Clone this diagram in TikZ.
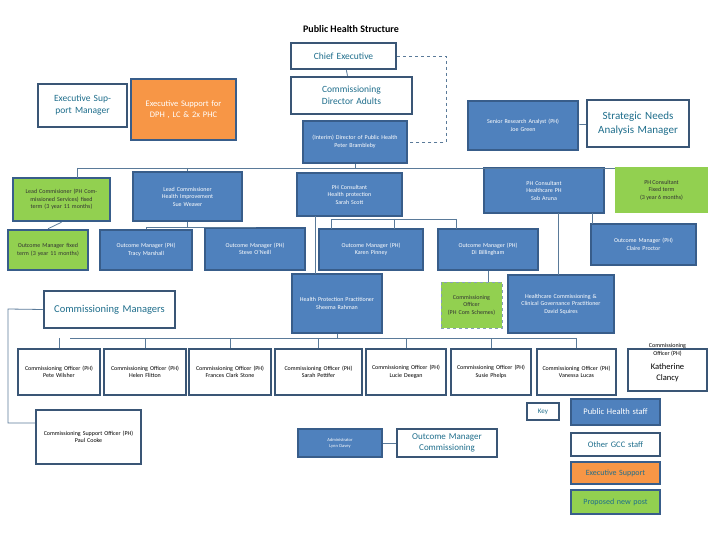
\documentclass[tikz,border=0pt]{standalone}
\usepackage{fontspec}
\setmainfont{Carlito}
\definecolor{bfill}{HTML}{4F81BD}
\definecolor{bdraw}{HTML}{385D8A}
\definecolor{gfill}{HTML}{92D050}
\definecolor{ofill}{HTML}{F79646}
\definecolor{teal1}{HTML}{1F6E8C}
\definecolor{wdraw}{HTML}{3A5676}
\definecolor{lcol}{HTML}{5A7A99}
\newcommand\bx[7]{%
\pgfmathsetmacro\bw{#4-#2}\pgfmathsetmacro\bh{#5-#3}%
\pgfmathsetmacro\cx{(#2+#4)/2}\pgfmathsetmacro\cy{(#3+#5)/2}%
\pgfmathsetmacro\tw{#4-#2-6}%
\node[#6,minimum width=\bw pt,minimum height=\bh pt,text width=\tw pt] (#1) at (\cx,\cy) {#7};}
\tikzset{
 box/.style={draw,line width=2.5pt,inner sep=0pt,align=center,font=\fontsize{6}{7.5}\selectfont},
 blue/.style={box,fill=bfill,draw=bdraw,text=white},
 wht/.style={box,fill=white,draw=wdraw,text=teal1,font=\fontsize{9.5}{12}\selectfont},
 grn/.style={box,fill=gfill,draw=bdraw,text=black!80},
 org/.style={box,fill=ofill,draw=bdraw,text=white,font=\fontsize{8.5}{11}\selectfont},
 ln/.style={draw=lcol,line width=0.8pt}
}
\begin{document}
\begin{tikzpicture}[x=1pt,y=-1pt]
\useasboundingbox (0,0) rectangle (720,540);
\node[font=\fontsize{10}{12}\selectfont\bfseries] (title) at (351,29) {Public Health Structure};
\bx{ce}{291}{43}{396}{69}{wht}{Chief Executive}
\bx{cda}{291}{77}{412}{114}{wht}{Commissioning Director Adults}
\bx{dph}{303}{121}{407}{163}{blue}{(Interim) Director of Public Health\\Peter Brambleby}
\bx{sra}{468}{101}{578}{150}{blue}{Senior Research Analyst (PH)\\Joe Green}
\bx{sna}{587}{100}{689}{147}{wht,font=\fontsize{11}{14}\selectfont}{Strategic Needs Analysis Manager}
\bx{esm}{38}{84}{127}{127}{wht}{Executive Support Manager}
\bx{esd}{131}{79}{236}{140}{org}{Executive Support for DPH , LC \& 2x PHC\\[8pt]}
\bx{lc1}{13}{178}{110}{221}{grn}{Lead Commisioner (PH Commissioned Services) fixed term (3 year 11 months)}
\bx{lc2}{133}{172}{242}{221}{blue}{Lead Commissioner\\Health Improvement\\Sue Weaver}
\bx{phc1}{297}{173}{402}{216}{blue}{PH Consultant\\Health protection\\Sarah Scott}
\bx{phc2}{484}{168}{604}{213}{blue}{PH Consultant\\Healthcare PH\\Sob Aruna}
\node[fill=gfill,minimum width=93pt,minimum height=46pt,align=center,inner sep=0pt,font=\fontsize{6}{7.5}\selectfont,text=black!80] (phc3) at (661.5,190) {PH Consultant\\Fixed term\\(3 year 6 months)};
\bx{om1}{8}{230}{88}{270}{grn}{Outcome Manager fixed term (3 year 11 months)}
\bx{om2}{100}{230}{192}{270}{blue}{Outcome Manager (PH)\\Tracy Marshall\\[6pt]}
\bx{om3}{205}{228}{305}{270}{blue}{Outcome Manager (PH)\\Steve O'Neill\\[10pt]}
\bx{om4}{319}{229}{423}{270}{blue}{Outcome Manager (PH)\\Karen Pinney\\[6pt]}
\bx{om5}{438}{229}{538}{270}{blue}{Outcome Manager (PH)\\Di Billingham\\[6pt]}
\bx{om6}{591}{224}{696}{265}{blue}{Outcome Manager (PH)\\Claire Proctor\\[8pt]}
\bx{hpp}{292}{274}{382}{333}{blue}{Health Protection Practitioner\\Sheema Rahman\\[10pt]}
\bx{cog}{441}{282}{502}{328}{grn,dashed,draw=bdraw!60,line width=1pt}{Commissioning Officer\\(PH Com Schemes)}
\bx{hcc}{508}{275}{614}{333}{blue}{Healthcare Commissioning \& Clinical Governance Practitioner\\David Squires\\[8pt]}
\bx{cm}{44}{291}{175}{328}{wht,font=\fontsize{10.5}{13}\selectfont}{Commissioning Managers}
\bx{co1}{18}{349}{100}{395}{wht,font=\fontsize{6}{7.5}\selectfont,text=black}{Commissioning Officer (PH)\\Pete Wilsher\\[6pt]}
\bx{co2}{104}{349}{186}{395}{wht,font=\fontsize{6}{7.5}\selectfont,text=black}{Commissioning Officer (PH)\\Helen Flitton\\[6pt]}
\bx{co3}{189}{349}{271}{395}{wht,font=\fontsize{6}{7.5}\selectfont,text=black}{Commissioning Officer (PH)\\Frances Clark Stone\\[14pt]}
\bx{co4}{275}{349}{362}{395}{wht,font=\fontsize{6}{7.5}\selectfont,text=black}{Commissioning Officer (PH)\\Sarah Pettifer\\[6pt]}
\bx{co5}{366}{349}{446}{395}{wht,font=\fontsize{6}{7.5}\selectfont,text=black}{Commissioning Officer (PH)\\Lucie Deegan\\[6pt]}
\bx{co6}{451}{349}{531}{395}{wht,font=\fontsize{6}{7.5}\selectfont,text=black}{Commissioning Officer (PH)\\Susie Phelps}
\bx{co7}{537}{349}{616}{395}{wht,font=\fontsize{6}{7.5}\selectfont,text=black}{Commissioning Officer (PH)\\Vanessa Lucas}
\bx{co8}{628}{349}{707}{391}{wht}{}
\node[align=center,font=\fontsize{6}{7.5}\selectfont,inner sep=0pt] (co8t) at (667.5,350) {Commissioning\\Officer (PH)};
\node[align=center,font=\fontsize{8.5}{11}\selectfont,inner sep=0pt] (co8n) at (667.5,373) {Katherine\\Clancy};
\bx{csu}{36}{410}{141}{464}{wht,font=\fontsize{6}{7.5}\selectfont,text=black}{Commissioning Support Officer (PH)\\Paul Cooke\\[18pt]}
\bx{adm}{298}{429}{382}{457}{blue,font=\fontsize{4.5}{6}\selectfont}{Administrator\\Lynn Davey\\[6pt]}
\bx{omc}{397}{429}{497}{457}{wht,font=\fontsize{9}{11.5}\selectfont}{Outcome Manager Commissioning}
\bx{key}{527}{403}{559}{420}{wht,font=\fontsize{7}{8}\selectfont}{Key}
\bx{k1}{571}{399}{660}{425}{blue,font=\fontsize{8.5}{10}\selectfont}{Public Health staff}
\bx{k2}{571}{433}{660}{456}{wht,font=\fontsize{8.5}{10}\selectfont}{Other GCC staff}
\bx{k3}{571}{462}{660}{484}{org,text=teal1,font=\fontsize{8}{10}\selectfont}{Executive Support}
\bx{k4}{571}{490}{660}{514}{grn,text=teal1,font=\fontsize{8}{10}\selectfont}{Proposed new post}
% connectors
\coordinate (bus) at (0,168);
\coordinate (obus) at (0,338);
\draw[ln] (ce) -- (cda);
\draw[ln,dashed] (ce.east) -- ++(49,0) |- (dph.east);
\draw[ln] (sra) -- (sna);
\draw[ln] (dph.south) -- (dph.south |- bus);
\draw[ln] (77,168) -- (615,168);
\draw[ln] (77,168) -- (77,178);
\draw[ln] (lc2.north |- bus) -- (lc2.north);
\draw[ln] (lc1.south) -- (om1.north);
\draw[ln] (lc2.south) -- ++(0,5) coordinate (b2) -| (om2.north);
\draw[ln] (b2) -| (om3.north);
\draw[ln] (331,219) -- (456,219);
\draw[ln] (331,219) -- (331,229);
\draw[ln] (394,219) -- (394,229);
\draw[ln] (456,219) -- (456,229);
\draw[ln] (315,216) -- (315,274);
\draw[ln] (om5.south) -- (om5.south |- cog.north);
\draw[ln] (558,213) -- (558,275);
\draw[ln] (592,213) -- (592,224);
\draw[ln] (hpp.south) -- (hpp.south |- obus);
\draw[ln] (70,338) -- (577,338);
\foreach \n in {co1,co2,co3,co4,co5,co6,co7} \draw[ln] (\n.north |- obus) -- (\n.north);
\draw[ln] (cm.west) -- (8,309) -- (8,423) -- (csu.west |- 0,423);
\draw[ln] (adm) -- (omc);
\end{tikzpicture}
\end{document}
